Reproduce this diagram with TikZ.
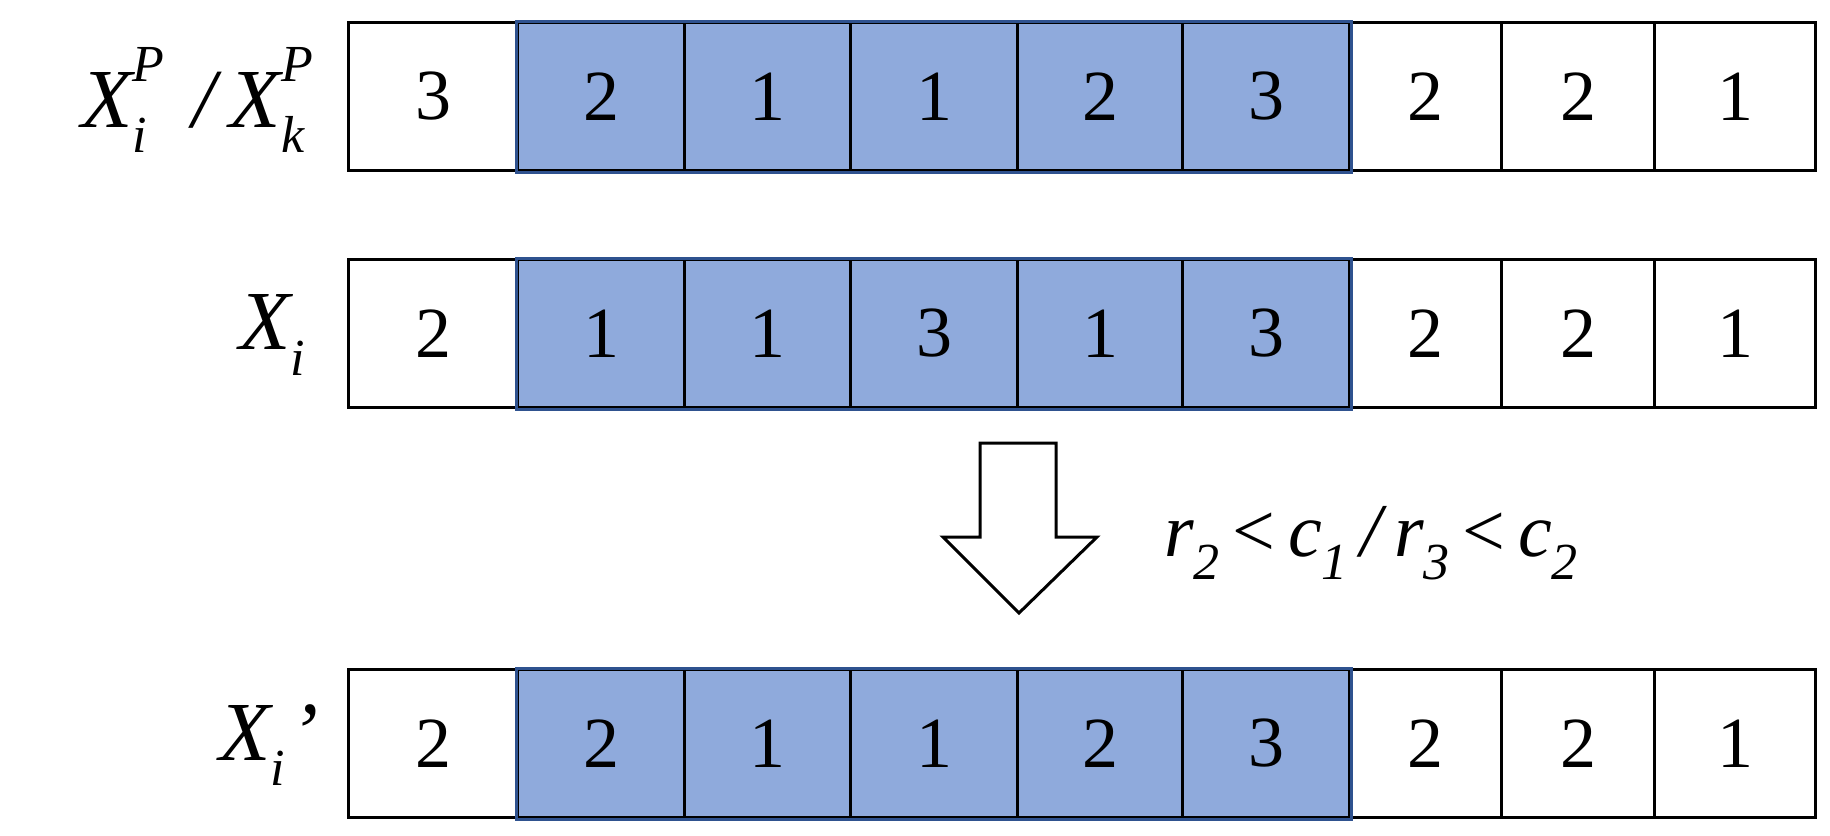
\documentclass[tikz,border=0pt]{standalone}
\usepackage{fontspec}
\setmainfont{Liberation Serif}
\newcommand{\sbx}[1]{\raisebox{-0.3em}{\fontsize{26}{26}\selectfont\itshape #1}}
\newcommand{\spx}[1]{\raisebox{0.55em}{\fontsize{26}{26}\selectfont\itshape #1}}
\newcommand{\subsup}[2]{\rlap{\sbx{#1}}\spx{#2}}
\begin{document}
\begin{tikzpicture}[x=0.5pt,y=-0.5pt,
  cell/.style={draw=black,line width=1.5pt,minimum width=#1*0.5pt,minimum height=74pt,inner sep=0pt,font=\fontsize{36}{36}\selectfont,anchor=north west},
  hl/.style={fill={rgb,255:red,143;green,170;blue,220}},
  lab/.style={font=\fontsize{42}{42}\selectfont\itshape,anchor=east}]
\useasboundingbox (0,0) rectangle (1830,835);
\def\xs{347,516,683,849,1016,1181,1348,1500,1653,1814}
\foreach \row/\y/\vals in {a/21/{3,2,1,1,2,3,2,2,1}, b/258/{2,1,1,3,1,3,2,2,1}, c/668/{2,2,1,1,2,3,2,2,1}}{
  \foreach \v [count=\i] in \vals {
    \pgfmathsetmacro{\xa}{{\xs}[\i-1]}
    \pgfmathsetmacro{\xb}{{\xs}[\i]}
    \pgfmathsetmacro{\w}{\xb-\xa}
    \ifnum\i>1 \ifnum\i<7
      \node[cell=\w,hl] (\row\i) at (\xa,\y) {\v};
    \else
      \node[cell=\w] (\row\i) at (\xa,\y) {\v};
    \fi\else
      \node[cell=\w] (\row\i) at (\xa,\y) {\v};
    \fi
  }
  \draw[draw={rgb,255:red,47;green,82;blue,143},line width=1.5pt] (\row2.north west) rectangle (\row6.south east);
}
\node[lab] (la) at (320,100) {X\subsup{i}{P}\,\,/\,X\subsup{k}{P}};
\node[lab] (lb) at (312,335) {X\sbx{i}\hspace{4pt}};
\node[lab] (lc) at (326,745) {X\rlap{\sbx{i}}\hspace{10pt}’};
\draw[line width=1.5pt,fill=white] (980,443) -- (1056,443) -- (1056,537) -- (1097,537) -- (1019,613) -- (943,537) -- (980,537) -- cycle;
\node[font=\fontsize{38}{38}\selectfont\itshape] (cond) at (1371,543) {r\sbx{2}\,\upshape<\,\itshape c\sbx{1}\,/\,r\sbx{3}\,\upshape<\,\itshape c\sbx{2}};
\end{tikzpicture}
\end{document}
